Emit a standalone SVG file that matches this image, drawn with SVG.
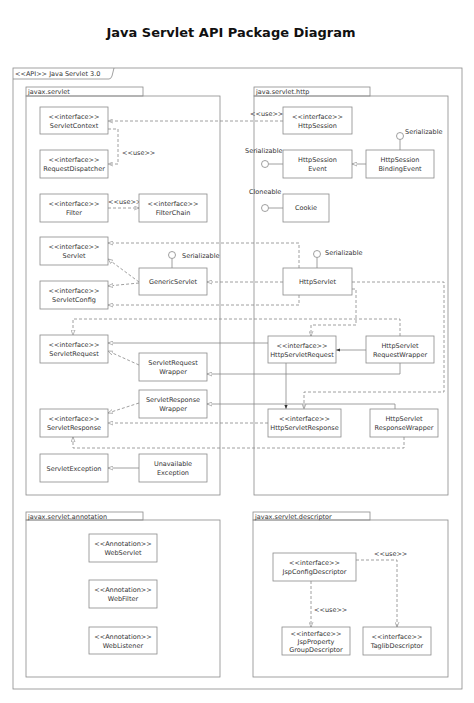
<svg xmlns="http://www.w3.org/2000/svg" width="474" height="703" viewBox="0 0 474 703">
<style>
.bg{fill:#fff}
.box{fill:#fff;stroke:#8a8a8a;stroke-width:0.8}
.pkg{fill:none;stroke:#8a8a8a;stroke-width:0.8}
.t{font-family:"DejaVu Sans",Verdana,sans-serif;font-size:6.5px;fill:#333;text-anchor:middle}
.l{font-family:"DejaVu Sans",Verdana,sans-serif;font-size:6.5px;fill:#333;text-anchor:start}
.title{font-family:"DejaVu Sans",Verdana,sans-serif;font-size:13px;font-weight:bold;fill:#111;text-anchor:middle}
.c{fill:none;stroke:#888;stroke-width:0.8}
.d{stroke-dasharray:3,2}
.lp{fill:#fff;stroke:#888;stroke-width:0.8}
</style>
<defs>
<marker id="tri" viewBox="0 0 10 10" refX="10" refY="5" markerWidth="5" markerHeight="5" markerUnits="userSpaceOnUse" orient="auto">
<path d="M0,1 L10,5 L0,9 z" fill="#fff" stroke="#888" stroke-width="1.2"/>
</marker>
<marker id="open" viewBox="0 0 10 10" refX="10" refY="5" markerWidth="5" markerHeight="5" markerUnits="userSpaceOnUse" orient="auto">
<path d="M0,1 L10,5 L0,9" fill="none" stroke="#888" stroke-width="1.2"/>
</marker>
<marker id="fill" viewBox="0 0 10 10" refX="10" refY="5" markerWidth="4" markerHeight="4" markerUnits="userSpaceOnUse" orient="auto">
<path d="M0,1 L10,5 L0,9 z" fill="#333" stroke="none"/>
</marker>
</defs>
<rect class="bg" x="0" y="0" width="474" height="703"/>
<text class="title" x="231" y="37">Java Servlet API Package Diagram</text>

<g id="frame-api">
<rect class="pkg" x="13" y="68" width="449" height="621"/>
<path class="pkg" d="M13,79 H109 Q111,79 112,76 L114,68"/>
<text class="l" x="15" y="76">&lt;&lt;API&gt;&gt; Java Servlet 3.0</text>
</g>
<g id="pkg-servlet">
<rect class="pkg" x="26" y="87" width="117" height="9"/>
<rect class="pkg" x="26" y="96" width="194" height="399"/>
<text class="l" x="28" y="94">javax.servlet</text>
</g>
<g id="pkg-http">
<rect class="pkg" x="254" y="87" width="116" height="9"/>
<rect class="pkg" x="254" y="96" width="194" height="399"/>
<text class="l" x="256" y="94">java.servlet.http</text>
</g>
<g id="pkg-annotation">
<rect class="pkg" x="26" y="512" width="117" height="8"/>
<rect class="pkg" x="26" y="520" width="194" height="157"/>
<text class="l" x="28" y="518.5">javax.servlet.annotation</text>
</g>
<g id="pkg-descriptor">
<rect class="pkg" x="253" y="512" width="117" height="8"/>
<rect class="pkg" x="253" y="520" width="195" height="157"/>
<text class="l" x="255" y="518.5">javax.servlet.descriptor</text>
</g>

<g id="connectors">
<path class="c d" d="M283,121 H108" marker-end="url(#open)"/>
<path class="c d" d="M108,129 H118 V164 H108" marker-end="url(#open)"/>
<path class="c d" d="M108,208 H139" marker-end="url(#open)"/>
<path class="c d" d="M299,268 V243 H108" marker-end="url(#tri)"/>
<path class="c d" d="M139,282 L108,259" marker-end="url(#tri)"/>
<path class="c d" d="M139,283 L108,286" marker-end="url(#tri)"/>
<path class="c d" d="M283,282 H207" marker-end="url(#tri)"/>
<path class="c d" d="M299,295 V305 H108" marker-end="url(#tri)"/>
<path class="c d" d="M400,336 V319 H73 V335" marker-end="url(#tri)"/>
<path class="c d" d="M352,289 H356 V325 H311 V336" marker-end="url(#open)"/>
<path class="c" d="M268,343 H108" marker-end="url(#tri)"/>
<path class="c d" d="M139,365 L108,351" marker-end="url(#tri)"/>
<path class="c" d="M400,363 V374 H207" marker-end="url(#tri)"/>
<path class="c" d="M366,350 H336" marker-end="url(#fill)"/>
<path class="c" d="M286,363 V409" marker-end="url(#fill)"/>
<path class="c" d="M395,409 V404 H207" marker-end="url(#tri)"/>
<path class="c d" d="M352,282 H444 V392 H304 V409" marker-end="url(#open)"/>
<path class="c d" d="M139,403 L108,413" marker-end="url(#tri)"/>
<path class="c d" d="M268,423 H108" marker-end="url(#tri)"/>
<path class="c d" d="M404,437 V448 H73 V437" marker-end="url(#tri)"/>
<path class="c" d="M139,468 H108" marker-end="url(#tri)"/>
<path class="c" d="M366,164 H352" marker-end="url(#tri)"/>
<path class="c d" d="M311,581 V627" marker-end="url(#open)"/>
<path class="c d" d="M356,560 H397 V627" marker-end="url(#open)"/>
<text class="l" x="250" y="116">&lt;&lt;use&gt;&gt;</text>
<text class="l" x="122" y="155">&lt;&lt;use&gt;&gt;</text>
<text class="l" x="108" y="204">&lt;&lt;use&gt;&gt;</text>
<text class="l" x="314" y="612">&lt;&lt;use&gt;&gt;</text>
<text class="l" x="374" y="556">&lt;&lt;use&gt;&gt;</text>
</g>

<g id="ServletContext"><rect class="box" x="40" y="107" width="68" height="27"/><text class="t" x="74" y="118.5">&lt;&lt;interface&gt;&gt;</text><text class="t" x="74" y="127.5">ServletContext</text></g>
<g id="RequestDispatcher"><rect class="box" x="40" y="150" width="68" height="28"/><text class="t" x="74" y="161.5">&lt;&lt;interface&gt;&gt;</text><text class="t" x="74" y="170.5">RequestDispatcher</text></g>
<g id="Filter"><rect class="box" x="40" y="194" width="68" height="28"/><text class="t" x="74" y="205.5">&lt;&lt;interface&gt;&gt;</text><text class="t" x="74" y="214.5">Filter</text></g>
<g id="FilterChain"><rect class="box" x="139" y="194" width="68" height="28"/><text class="t" x="173" y="205.5">&lt;&lt;interface&gt;&gt;</text><text class="t" x="173" y="214.5">FilterChain</text></g>
<g id="Servlet"><rect class="box" x="40" y="237" width="68" height="28"/><text class="t" x="74" y="248.5">&lt;&lt;interface&gt;&gt;</text><text class="t" x="74" y="257.5">Servlet</text></g>
<g id="GenericServlet"><line class="c" x1="172" y1="258.5" x2="172" y2="268"/><circle class="lp" cx="172" cy="255" r="3.5"/><text class="l" x="182" y="257.5">Serializable</text><rect class="box" x="139" y="268" width="68" height="27"/><text class="t" x="173" y="284">GenericServlet</text></g>
<g id="ServletConfig"><rect class="box" x="40" y="281" width="68" height="28"/><text class="t" x="74" y="292.5">&lt;&lt;interface&gt;&gt;</text><text class="t" x="74" y="301.5">ServletConfig</text></g>
<g id="ServletRequest"><rect class="box" x="40" y="335" width="68" height="28"/><text class="t" x="74" y="346.5">&lt;&lt;interface&gt;&gt;</text><text class="t" x="74" y="355.5">ServletRequest</text></g>
<g id="ServletRequestWrapper"><rect class="box" x="139" y="353" width="68" height="28"/><text class="t" x="173" y="364.5">ServletRequest</text><text class="t" x="173" y="373.5">Wrapper</text></g>
<g id="ServletResponseWrapper"><rect class="box" x="139" y="390" width="68" height="28"/><text class="t" x="173" y="401.5">ServletResponse</text><text class="t" x="173" y="410.5">Wrapper</text></g>
<g id="ServletResponse"><rect class="box" x="40" y="409" width="68" height="28"/><text class="t" x="74" y="420.5">&lt;&lt;interface&gt;&gt;</text><text class="t" x="74" y="429.5">ServletResponse</text></g>
<g id="ServletException"><rect class="box" x="40" y="454" width="68" height="28"/><text class="t" x="74" y="470.5">ServletException</text></g>
<g id="UnavailableException"><rect class="box" x="139" y="454" width="68" height="28"/><text class="t" x="173" y="465.5">Unavailable</text><text class="t" x="173" y="474.5">Exception</text></g>

<g id="HttpSession"><rect class="box" x="283" y="107" width="69" height="27"/><text class="t" x="317.5" y="118.5">&lt;&lt;interface&gt;&gt;</text><text class="t" x="317.5" y="127.5">HttpSession</text></g>
<g id="HttpSessionEvent"><line class="c" x1="268.5" y1="164" x2="283" y2="164"/><circle class="lp" cx="265" cy="164" r="3.5"/><text class="l" x="245" y="153">Serializable</text><rect class="box" x="283" y="150" width="69" height="28"/><text class="t" x="317.5" y="161.5">HttpSession</text><text class="t" x="317.5" y="170.5">Event</text></g>
<g id="HttpSessionBindingEvent"><line class="c" x1="400" y1="139.5" x2="400" y2="150"/><circle class="lp" cx="400" cy="136" r="3.5"/><text class="l" x="405" y="134">Serializable</text><rect class="box" x="366" y="150" width="68" height="28"/><text class="t" x="400" y="161.5">HttpSession</text><text class="t" x="400" y="170.5">BindingEvent</text></g>
<g id="Cookie"><line class="c" x1="268.5" y1="208" x2="283" y2="208"/><circle class="lp" cx="265" cy="208" r="3.5"/><text class="l" x="249" y="194">Cloneable</text><rect class="box" x="283" y="194" width="46" height="28"/><text class="t" x="306" y="210">Cookie</text></g>
<g id="HttpServlet"><line class="c" x1="317" y1="257.5" x2="317" y2="268"/><circle class="lp" cx="317" cy="254" r="3.5"/><text class="l" x="325" y="255">Serializable</text><rect class="box" x="283" y="268" width="69" height="27"/><text class="t" x="317.5" y="284">HttpServlet</text></g>
<g id="HttpServletRequest"><rect class="box" x="268" y="336" width="68" height="27"/><text class="t" x="302" y="347.5">&lt;&lt;interface&gt;&gt;</text><text class="t" x="302" y="356.5">HttpServletRequest</text></g>
<g id="HttpServletRequestWrapper"><rect class="box" x="366" y="336" width="68" height="27"/><text class="t" x="400" y="347.5">HttpServlet</text><text class="t" x="400" y="356.5">RequestWrapper</text></g>
<g id="HttpServletResponse"><rect class="box" x="268" y="409" width="73" height="28"/><text class="t" x="304.5" y="420.5">&lt;&lt;interface&gt;&gt;</text><text class="t" x="304.5" y="429.5">HttpServletResponse</text></g>
<g id="HttpServletResponseWrapper"><rect class="box" x="370" y="409" width="68" height="28"/><text class="t" x="404" y="420.5">HttpServlet</text><text class="t" x="404" y="429.5">ResponseWrapper</text></g>

<g id="WebServlet"><rect class="box" x="89" y="534" width="68" height="28"/><text class="t" x="123" y="545.5">&lt;&lt;Annotation&gt;&gt;</text><text class="t" x="123" y="554.5">WebServlet</text></g>
<g id="WebFilter"><rect class="box" x="89" y="580" width="68" height="28"/><text class="t" x="123" y="591.5">&lt;&lt;Annotation&gt;&gt;</text><text class="t" x="123" y="600.5">WebFilter</text></g>
<g id="WebListener"><rect class="box" x="89" y="627" width="68" height="27"/><text class="t" x="123" y="638.5">&lt;&lt;Annotation&gt;&gt;</text><text class="t" x="123" y="647.5">WebListener</text></g>

<g id="JspConfigDescriptor"><rect class="box" x="273" y="553" width="83" height="28"/><text class="t" x="314.5" y="564.5">&lt;&lt;interface&gt;&gt;</text><text class="t" x="314.5" y="573.5">JspConfigDescriptor</text></g>
<g id="JspPropertyGroupDescriptor"><rect class="box" x="282" y="627" width="68" height="28"/><text class="t" x="316" y="635.5">&lt;&lt;interface&gt;&gt;</text><text class="t" x="316" y="643.5">JspProperty</text><text class="t" x="316" y="651.5">GroupDescriptor</text></g>
<g id="TaglibDescriptor"><rect class="box" x="363" y="627" width="68" height="28"/><text class="t" x="397" y="638.5">&lt;&lt;interface&gt;&gt;</text><text class="t" x="397" y="647.5">TaglibDescriptor</text></g>
</svg>
